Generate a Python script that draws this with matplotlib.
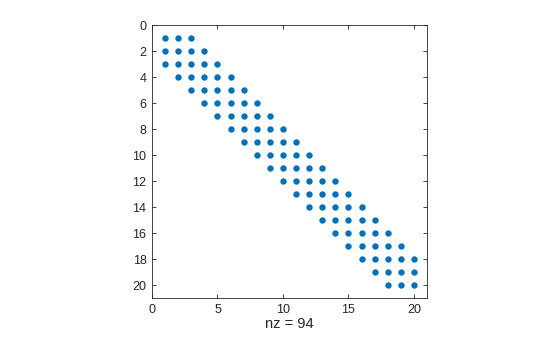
import numpy as np
import matplotlib
matplotlib.use("Agg")
import matplotlib.pyplot as plt

plt.rcParams['font.family'] = ['Liberation Sans', 'DejaVu Sans']

n = 20
band_offsets = [-2, -1, 0, 1, 2]
x_ticks = [0, 5, 10, 15, 20]
y_ticks = [0, 2, 4, 6, 8, 10, 12, 14, 16, 18, 20]

A = np.zeros((n, n))
for k in band_offsets:
    A += np.diag(np.ones(n - abs(k)), k)
rows, cols = np.nonzero(A)
rows = rows + 1
cols = cols + 1
nz = len(rows)

fig = plt.figure(figsize=(5.6, 3.37), dpi=100)
ax = fig.add_axes([152/560, (337-298)/337, 275/560, 273/337])
ax.plot(cols, rows, 'o', color='#0072BD', markersize=4.6, markeredgewidth=0)
ax.set_xlim(0, n + 1)
ax.set_ylim(n + 1, 0)
ax.set_xticks(x_ticks)
ax.set_yticks(y_ticks)
ax.tick_params(direction='in', top=True, right=True, labelsize=9, length=3,
               width=0.6, colors='#262626', pad=4)
for s in ax.spines.values():
    s.set_linewidth(0.6)
    s.set_color('#262626')
ax.set_xlabel(f'nz = {nz}', fontsize=10.5, color='#262626', labelpad=1)
fig.savefig('out.png', dpi=100)
